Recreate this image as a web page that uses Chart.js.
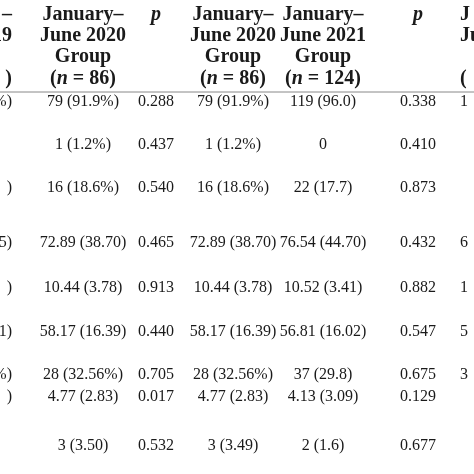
<!DOCTYPE html>
<html>
<head>
<meta charset="utf-8">
<script src="https://cdn.jsdelivr.net/npm/chart.js@4"></script>
<style>
  html, body { margin: 0; padding: 0; background: #fff; }
  #wrap { width: 474px; height: 474px; }
</style>
</head>
<body>
<div id="wrap"><canvas id="myChart"></canvas></div>
<script>
// column positions (table columns, left part cropped off)
const colX = [12, 83, 156, 233, 323, 418, 460];
const colAlign = ['right', 'center', 'center', 'center', 'center', 'center', 'left'];

// header lines per column
const headers = [
  ['–', '19', '', ')'],
  ['January–', 'June 2020', 'Group', '(n = 86)'],
  ['p', '', '', ''],
  ['January–', 'June 2020', 'Group', '(n = 86)'],
  ['January–', 'June 2021', 'Group', '(n = 124)'],
  ['p', '', '', ''],
  ['J', 'Ju', '', '(']
];
const headerY = [15, 36, 57, 79];

// data rows
const rowY = [102, 145, 188, 243, 288, 332, 375, 397, 446];
const col0 = ['%)', '', ')', '5)', ')', '1)', '%)', ')', ''];
const group2020a = ['79 (91.9%)', '1 (1.2%)', '16 (18.6%)', '72.89 (38.70)', '10.44 (3.78)', '58.17 (16.39)', '28 (32.56%)', '4.77 (2.83)', '3 (3.50)'];
const pA = ['0.288', '0.437', '0.540', '0.465', '0.913', '0.440', '0.705', '0.017', '0.532'];
const group2020b = ['79 (91.9%)', '1 (1.2%)', '16 (18.6%)', '72.89 (38.70)', '10.44 (3.78)', '58.17 (16.39)', '28 (32.56%)', '4.77 (2.83)', '3 (3.49)'];
const group2021 = ['119 (96.0)', '0', '22 (17.7)', '76.54 (44.70)', '10.52 (3.41)', '56.81 (16.02)', '37 (29.8)', '4.13 (3.09)', '2 (1.6)'];
const pB = ['0.338', '0.410', '0.873', '0.432', '0.882', '0.547', '0.675', '0.129', '0.677'];
const col6 = ['1', '', '', '6', '1', '5', '3', '', ''];
const columns = [col0, group2020a, pA, group2020b, group2021, pB, col6];

const ruleY = 92;

const datasets = [];
columns.forEach((col, c) => {
  datasets.push({
    type: 'scatter',
    data: col.map((t, r) => ({ x: colX[c], y: rowY[r], label: t })),
    pointRadius: 0,
    kind: 'cell', align: colAlign[c]
  });
  datasets.push({
    type: 'scatter',
    data: headers[c].map((t, r) => ({ x: colX[c], y: headerY[r], label: t })),
    pointRadius: 0,
    kind: 'head', align: colAlign[c]
  });
});
datasets.push({
  type: 'line',
  data: [{ x: 0, y: ruleY }, { x: 474, y: ruleY }],
  borderColor: '#888', borderWidth: 1, pointRadius: 0
});

const HEAD = '20px "Liberation Serif"';
const CELL = '16px "Liberation Serif"';

const textPlugin = {
  id: 'cellText',
  afterDatasetsDraw(chart) {
    const ctx = chart.ctx;
    const xs = chart.scales.x, ys = chart.scales.y;
    ctx.save();
    ctx.fillStyle = '#1a1a1a';
    ctx.textBaseline = 'middle';
    chart.data.datasets.forEach(ds => {
      if (!ds.kind) return;
      ctx.textAlign = ds.align;
      ds.data.forEach(p => {
        if (!p.label) return;
        const px = xs.getPixelForValue(p.x), py = ys.getPixelForValue(p.y);
        if (ds.kind === 'head') {
          if (p.label === 'p') {
            ctx.font = 'italic bold ' + HEAD;
            ctx.fillText(p.label, px, py);
          } else if (p.label.startsWith('(n')) {
            // (n = 86) with italic n
            const rest = p.label.slice(2);
            ctx.font = 'bold ' + HEAD;
            const w1 = ctx.measureText('(').width, w3 = ctx.measureText(rest).width;
            ctx.font = 'italic bold ' + HEAD;
            const w2 = ctx.measureText('n').width;
            let x0 = px - (w1 + w2 + w3) / 2;
            ctx.textAlign = 'left';
            ctx.font = 'bold ' + HEAD;
            ctx.fillText('(', x0, py);
            ctx.font = 'italic bold ' + HEAD;
            ctx.fillText('n', x0 + w1, py);
            ctx.font = 'bold ' + HEAD;
            ctx.fillText(rest, x0 + w1 + w2, py);
            ctx.textAlign = ds.align;
          } else {
            ctx.font = 'bold ' + HEAD;
            ctx.fillText(p.label, px, py);
          }
        } else {
          ctx.font = CELL;
          ctx.fillText(p.label, px, py);
        }
      });
    });
    ctx.restore();
  }
};

new Chart(document.getElementById('myChart').getContext('2d'), {
  type: 'scatter',
  data: { datasets: datasets },
  options: {
    responsive: true,
    maintainAspectRatio: false,
    animation: false,
    layout: { padding: 0 },
    plugins: { legend: { display: false }, tooltip: { enabled: false } },
    scales: {
      x: { type: 'linear', min: 0, max: 474, display: false },
      y: { type: 'linear', min: 0, max: 474, reverse: true, display: false }
    }
  },
  plugins: [textPlugin]
});
</script>
</body>
</html>
